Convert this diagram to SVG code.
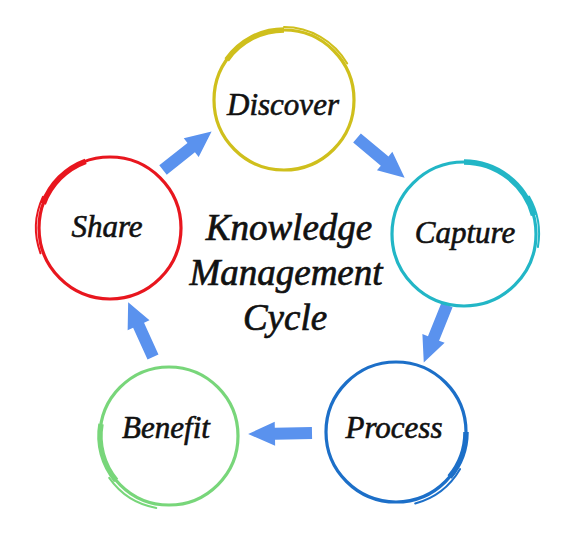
<svg xmlns="http://www.w3.org/2000/svg" width="576" height="538" viewBox="0 0 576 538">
<style>
.ring{fill:none;stroke-width:3.2;stroke-linecap:round}
.thick{fill:none;stroke-width:5.5;stroke-linecap:butt}
.tail{fill:none;stroke-width:2;stroke-linecap:round}
.lbl{font-family:"Liberation Serif","Times New Roman",serif;font-style:italic;font-size:31px;fill:#111;stroke:#111;stroke-width:0.6;text-anchor:middle}
.title{font-family:"Liberation Serif","Times New Roman",serif;font-style:italic;font-size:37px;fill:#111;stroke:#111;stroke-width:0.7;text-anchor:middle}
.arr{fill:#5a92ee}
</style>
<defs>
<path id="arrow" d="M0,-6 L36,-6 L36,-12 L62,0 L36,12 L36,6 L0,6 Z"/>
</defs>
<rect width="576" height="538" fill="#fff"/>
<g id="connectors" class="arr">
<use href="#arrow" transform="translate(163,170) rotate(-38.4)"/>
<use href="#arrow" transform="translate(357,138) rotate(39.8)"/>
<use href="#arrow" transform="translate(447,305) rotate(112)"/>
<use href="#arrow" transform="translate(312,433) rotate(179) scale(1.03,1)"/>
<use href="#arrow" transform="translate(153,357) rotate(-114.4) scale(0.97,1)"/>
</g>
<g id="discover" stroke="#cfbf1c">
<circle class="ring" cx="284" cy="100" r="70"/>
<path class="thick" d="M226.7,59.8 A70,70 0 0 1 284,30"/>
<path class="tail" d="M284,27 A73,73 0 0 1 347.2,63.5"/>
<text class="lbl" x="283" y="115">Discover</text>
</g>
<g id="capture" stroke="#22b6c6">
<circle class="ring" cx="464" cy="234" r="72"/>
<path class="thick" d="M464,162 A72,72 0 0 1 533.5,215.4"/>
<path class="tail" d="M529,196.5 A75,75 0 0 1 537.9,247"/>
<text class="lbl" x="465" y="243">Capture</text>
</g>
<g id="share" stroke="#e8161e">
<circle class="ring" cx="110" cy="228" r="71"/>
<path class="thick" d="M43.3,203.7 A71,71 0 0 1 85.7,161.3"/>
<path class="tail" d="M40.5,253.3 A74,74 0 0 1 43,196.7"/>
<text class="lbl" x="107" y="237">Share</text>
</g>
<g id="process" stroke="#1c6fc8">
<circle class="ring" cx="396" cy="432" r="70"/>
<path class="thick" d="M466,432 A70,70 0 0 1 449.6,477"/>
<path class="tail" d="M460.1,469 A74,74 0 0 1 415.2,503.5"/>
<text class="lbl" x="394" y="438">Process</text>
</g>
<g id="benefit" stroke="#78d67a">
<circle class="ring" cx="169" cy="436" r="69"/>
<path class="thick" d="M116.1,480.4 A69,69 0 0 1 101,424"/>
<path class="tail" d="M156.3,507.9 A73,73 0 0 1 109.2,477.9"/>
<text class="lbl" x="166" y="438">Benefit</text>
</g>
<g id="title">
<text class="title" x="289" y="240">Knowledge</text>
<text class="title" x="286" y="285">Management</text>
<text class="title" x="285" y="330">Cycle</text>
</g>
</svg>
